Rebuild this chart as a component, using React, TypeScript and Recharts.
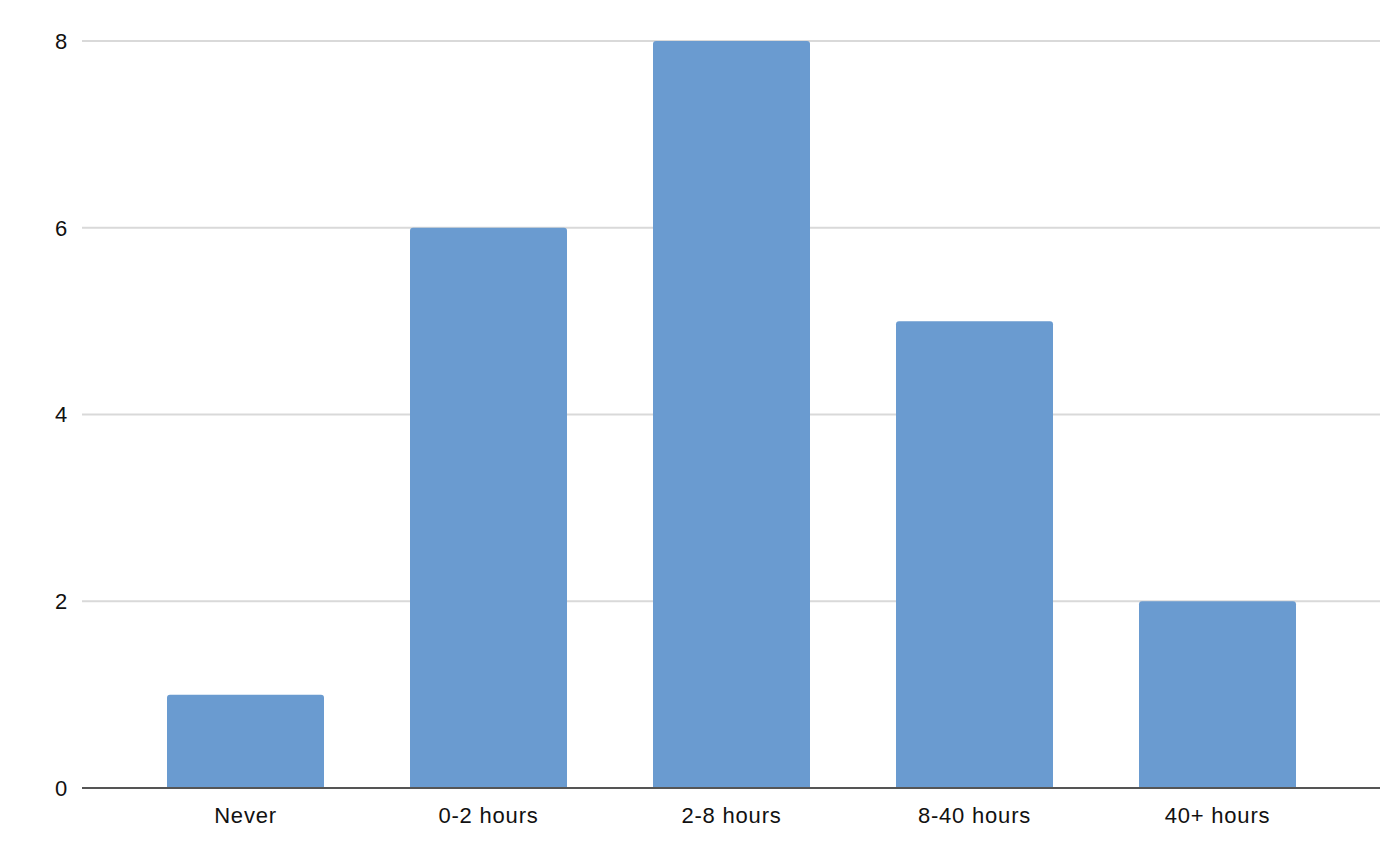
import React from 'react';
import { BarChart, Bar, XAxis, YAxis, CartesianGrid } from 'recharts';

const categories = ['Never', '0-2 hours', '2-8 hours', '8-40 hours', '40+ hours'];
const counts = [1, 6, 8, 5, 2];
const yTicks = [0, 2, 4, 6, 8];

const data = categories.map((name, i) => ({ name, count: counts[i] }));

const tickStyle = {
  fill: '#111',
  fontSize: 22,
  letterSpacing: 0.8,
  fontFamily: 'Liberation Sans, Arial, Helvetica, sans-serif',
};

export default function App() {
  return (
    <div style={{ position: 'absolute', left: 0, top: 0, width: 1398, height: 856, background: '#fff' }}>
      <BarChart
        width={1398}
        height={856}
        data={data}
        margin={{ top: 41, right: 18, left: 0, bottom: 0 }}
        barCategoryGap={43}
      >
        <CartesianGrid vertical={false} stroke="#d9d9d9" strokeWidth={2} />
        <XAxis
          dataKey="name"
          height={68}
          padding={{ left: 42, right: 41 }}
          tickLine={false}
          tickSize={0}
          tickMargin={19}
          axisLine={{ stroke: '#555', strokeWidth: 2 }}
          tick={tickStyle}
        />
        <YAxis
          width={82}
          domain={[0, 8]}
          ticks={yTicks}
          axisLine={false}
          tickLine={false}
          tickSize={0}
          tickMargin={14}
          tick={tickStyle}
        />
        <Bar dataKey="count" fill="#6a9bd0" radius={[3, 3, 0, 0]} isAnimationActive={false} />
      </BarChart>
    </div>
  );
}
